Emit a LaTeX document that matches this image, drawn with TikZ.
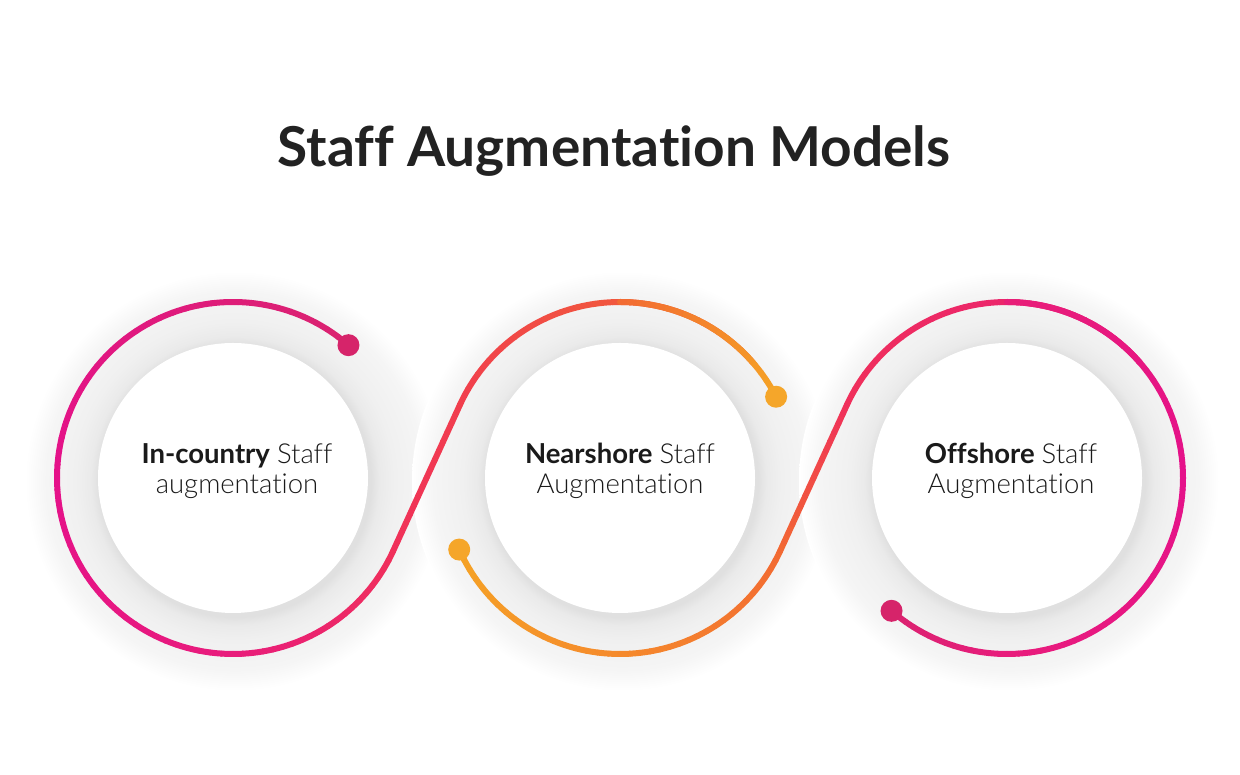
\documentclass[tikz,border=0pt]{standalone}
\usepackage{fontspec}
\setmainfont{Lato}[Ligatures=NoCommon]
\newfontfamily\latolight{Lato Light}[Ligatures=NoCommon]
\usetikzlibrary{calc}
\definecolor{cA}{HTML}{DA2370}
\definecolor{cMag}{HTML}{E5118A}
\definecolor{cBot}{HTML}{E81C7C}
\definecolor{cS}{HTML}{F0305A}
\definecolor{cRed}{HTML}{F13E4E}
\definecolor{cOR}{HTML}{F26A32}
\definecolor{cOr}{HTML}{F5A325}
\definecolor{cOr2}{HTML}{F58A2C}
\definecolor{cPk}{HTML}{E81E78}
\definecolor{dotPink}{HTML}{D6246A}
\definecolor{dotOr}{HTML}{F5A62A}
\definecolor{gA}{HTML}{E0E0E0}
\definecolor{gB}{HTML}{EAEAEA}
\definecolor{gC}{HTML}{F0F0F0}
\definecolor{gD}{HTML}{F5F5F5}
\definecolor{titlec}{HTML}{222222}
\definecolor{txtc}{HTML}{1A1A1A}
\pgfdeclareradialshading{glow}{\pgfpoint{0bp}{0bp}}{color(0bp)=(gA); color(16.2bp)=(gA); color(17.2bp)=(gB); color(19bp)=(gC); color(22.5bp)=(gD); color(25bp)=(white); color(50bp)=(white)}
\def\R{176}
\def\D{387}
\newcommand\gradarc[6]{% center, a1, a2, colA, colB, N
  \foreach \k in {1,...,#6}{%
    \pgfmathsetmacro\aa{#2+(#3-#2)*(\k-1)/#6}%
    \pgfmathsetmacro\ab{#2+(#3-#2)*\k/#6}%
    \pgfmathsetmacro\pp{100-100*(\k-0.5)/#6}%
    \colorlet{segc}{#4!\pp!#5}%
    \draw[ring, segc] ($(#1)+(\aa:\R pt)$) arc[start angle=\aa, end angle=\ab, radius=\R pt];
  }}
\newcommand\gradline[5]{% from, to, colA, colB, N
  \foreach \k in {1,...,#5}{%
    \pgfmathsetmacro\ta{(\k-1)/#5}%
    \pgfmathsetmacro\tb{\k/#5}%
    \pgfmathsetmacro\pp{100-100*(\k-0.5)/#5}%
    \colorlet{segc}{#3!\pp!#4}%
    \draw[ring, segc] ($(#1)!\ta!(#2)$) -- ($(#1)!\tb!(#2)$);
  }}
\tikzset{
  ring/.style={line width=6pt, line cap=round},
  disc/.style={circle, fill=white, minimum size=270pt, inner sep=0pt},
  lbl/.style={align=center, text=txtc, font=\fontsize{27.5}{30}\selectfont},
  enddot/.style={circle, inner sep=0pt, minimum size=22pt},
}
\begin{document}
\begin{tikzpicture}[x=1pt,y=1pt]
\useasboundingbox (0,0) rectangle (1240,775);
\fill[white] (0,0) rectangle (1240,775);
\pgfmathsetmacro\th{acos(2*\R/\D)}
\coordinate (c1) at (233,297);
\coordinate (c2) at (620,297);
\coordinate (c3) at (1007,297);
% glows
\foreach \c in {c1,c2,c3}{
  \shade[shading=glow] ($(\c)+(2,-3)$) circle[radius=210pt];
}
\node[disc] (d1) at (c1) {};
\node[disc] (d2) at (c2) {};
\node[disc] (d3) at (c3) {};
% tangent points
\coordinate (t1) at ($(c1)+(-\th:\R pt)$);
\coordinate (t2) at ($(c2)+(180-\th:\R pt)$);
\coordinate (t3) at ($(c2)+(-\th:\R pt)$);
\coordinate (t4) at ($(c3)+(180-\th:\R pt)$);
% path 1
\gradarc{c1}{49}{180}{cA}{cMag}{30}
\gradarc{c1}{180}{270}{cMag}{cBot}{24}
\gradarc{c1}{270}{360-\th}{cBot}{cS}{20}
\gradline{t1}{t2}{cS}{cRed}{16}
\gradarc{c2}{180-\th}{90}{cRed}{cOR}{20}
\gradarc{c2}{90}{27.5}{cOR}{cOr}{20}
% path 2
\gradarc{c2}{204}{270}{cOr}{cOr2}{18}
\gradarc{c2}{270}{360-\th}{cOr2}{cOR}{20}
\gradline{t3}{t4}{cOR}{cS}{16}
\gradarc{c3}{180-\th}{90}{cS}{cPk}{20}
\gradarc{c3}{90}{0}{cPk}{cMag}{24}
\gradarc{c3}{0}{-90}{cMag}{cBot}{24}
\gradarc{c3}{-90}{-131}{cBot}{cA}{14}
% dots
\node[enddot, fill=dotPink] (e1) at ($(c1)+(49:\R pt)$) {};
\node[enddot, fill=dotOr] (e2) at ($(c2)+(27.5:\R pt)$) {};
\node[enddot, fill=dotOr] (e3) at ($(c2)+(204:\R pt)$) {};
\node[enddot, fill=dotPink] (e4) at ($(c3)+(-131:\R pt)$) {};
% texts
\node[lbl] (l1) at ($(c1)+(4,7)$) {{\bfseries In-country} {\latolight Staff}\\{\latolight augmentation}};
\node[lbl] (l2) at ($(c2)+(0,7)$) {{\bfseries Nearshore} {\latolight Staff}\\{\latolight Augmentation}};
\node[lbl] (l3) at ($(c3)+(4,7)$) {{\bfseries Offshore} {\latolight Staff}\\{\latolight Augmentation}};
\node[text=titlec, font=\fontsize{55}{60}\bfseries] (title) at (614,624) {Staff Augmentation Models};
\end{tikzpicture}
\end{document}
